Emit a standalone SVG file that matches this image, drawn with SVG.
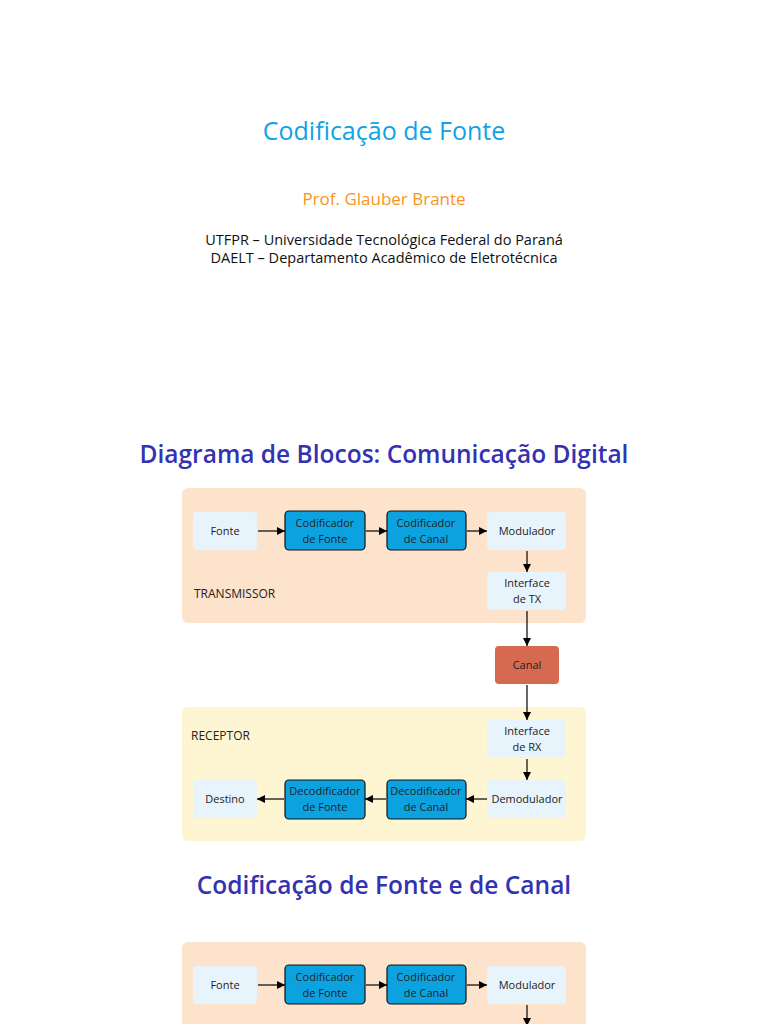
<svg xmlns="http://www.w3.org/2000/svg" width="768" height="1024" viewBox="0 0 768 1024">
<style>
text{font-family:"Open Sans","DejaVu Sans",sans-serif;}
.t{font-size:11px;fill:#222;text-anchor:middle}
.l{font-size:12px;fill:#222}
.lt{fill:#e8f4fc}
.dk{fill:#0ca2e0;stroke:#111;stroke-width:1.2}
.c{stroke:#000;stroke-width:1.2;fill:none;marker-end:url(#a)}
.h{font-size:24.5px;fill:#3333b2;text-anchor:middle;font-weight:600}
</style>
<defs><marker id="a" viewBox="0 0 10 10" refX="10" refY="5" markerWidth="8" markerHeight="8" orient="auto" markerUnits="userSpaceOnUse"><path d="M0,0L10,5L0,10z" fill="#000"/></marker></defs>
<rect width="768" height="1024" fill="#fff"/>
<text x="384" y="140" font-size="25" fill="#0fa3e6" text-anchor="middle">Codificação de Fonte</text>
<text x="384" y="205" font-size="17" fill="#f7941d" text-anchor="middle">Prof. Glauber Brante</text>
<text x="384" y="245" font-size="14.5" fill="#111" text-anchor="middle">UTFPR – Universidade Tecnológica Federal do Paraná</text>
<text x="384" y="263" font-size="14.5" fill="#111" text-anchor="middle">DAELT – Departamento Acadêmico de Eletrotécnica</text>
<text x="384" y="463" class="h">Diagrama de Blocos: Comunicação Digital</text>
<rect x="182" y="488" width="404" height="135" rx="6" fill="#fde3cc"/>
<rect x="182" y="707" width="404" height="134" rx="6" fill="#fef5d2"/>
<text x="194" y="598" class="l">TRANSMISSOR</text>
<text x="191" y="740" class="l">RECEPTOR</text>
<g id="fonte"><rect x="193" y="512" width="64" height="38" rx="4" class="lt"/><text x="225" y="535" class="t">Fonte</text></g>
<g id="codfonte"><rect x="285" y="511" width="80" height="39" rx="4" class="dk"/><text x="325" y="527" class="t">Codificador</text><text x="325" y="543" class="t">de Fonte</text></g>
<g id="codcanal"><rect x="387" y="511" width="79" height="39" rx="4" class="dk"/><text x="426" y="527" class="t">Codificador</text><text x="426" y="543" class="t">de Canal</text></g>
<g id="mod"><rect x="487" y="512" width="79" height="38" rx="4" class="lt"/><text x="527" y="535" class="t">Modulador</text></g>
<g id="itx"><rect x="487" y="572" width="79" height="38" rx="4" class="lt"/><text x="527" y="587" class="t">Interface</text><text x="527" y="603" class="t">de TX</text></g>
<g id="canal"><rect x="495" y="646" width="64" height="38" rx="4" fill="#d56a50"/><text x="527" y="669" class="t">Canal</text></g>
<g id="irx"><rect x="487" y="720" width="79" height="38" rx="4" class="lt"/><text x="527" y="735" class="t">Interface</text><text x="527" y="751" class="t">de RX</text></g>
<g id="demod"><rect x="487" y="780" width="79" height="38" rx="4" class="lt"/><text x="527" y="803" class="t">Demodulador</text></g>
<g id="deccanal"><rect x="387" y="780" width="79" height="39" rx="4" class="dk"/><text x="426" y="795" class="t">Decodificador</text><text x="426" y="811" class="t">de Canal</text></g>
<g id="decfonte"><rect x="285" y="780" width="80" height="39" rx="4" class="dk"/><text x="325" y="795" class="t">Decodificador</text><text x="325" y="811" class="t">de Fonte</text></g>
<g id="destino"><rect x="193" y="780" width="64" height="38" rx="4" class="lt"/><text x="225" y="803" class="t">Destino</text></g>
<text x="384" y="894" class="h">Codificação de Fonte e de Canal</text>
<rect x="182" y="942" width="404" height="100" rx="6" fill="#fde3cc"/>
<g id="fonte2"><rect x="193" y="966" width="64" height="38" rx="4" class="lt"/><text x="225" y="989" class="t">Fonte</text></g>
<g id="codfonte2"><rect x="285" y="965" width="80" height="39" rx="4" class="dk"/><text x="325" y="981" class="t">Codificador</text><text x="325" y="997" class="t">de Fonte</text></g>
<g id="codcanal2"><rect x="387" y="965" width="79" height="39" rx="4" class="dk"/><text x="426" y="981" class="t">Codificador</text><text x="426" y="997" class="t">de Canal</text></g>
<g id="mod2"><rect x="487" y="966" width="79" height="38" rx="4" class="lt"/><text x="527" y="989" class="t">Modulador</text></g>
<g id="connectors">
<path class="c" d="M258,531H285"/><path class="c" d="M366,531H387"/><path class="c" d="M467,531H487"/>
<path class="c" d="M527,551V572"/><path class="c" d="M527,611V646"/><path class="c" d="M527,685V720"/><path class="c" d="M527,759V780"/>
<path class="c" d="M487,799H466"/><path class="c" d="M386,799H365"/><path class="c" d="M284,799H257"/>
<path class="c" d="M258,985H285"/><path class="c" d="M366,985H387"/><path class="c" d="M467,985H487"/><path class="c" d="M527,1005V1026"/>
</g>
</svg>
